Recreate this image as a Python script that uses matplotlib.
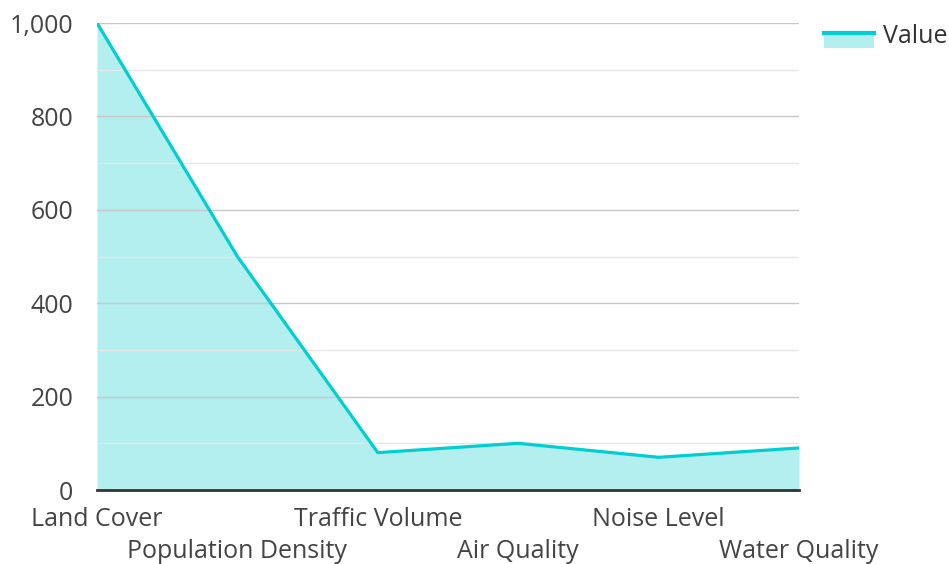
import matplotlib.pyplot as plt
import matplotlib.transforms as mtransforms
from matplotlib.patches import Rectangle
from matplotlib.lines import Line2D
from matplotlib.legend_handler import HandlerBase
import numpy as np

categories = ["Land Cover", "Population Density", "Traffic Volume",
              "Air Quality", "Noise Level", "Water Quality"]
values = [1000, 500, 80, 100, 70, 90]
series_name = "Value"

line_color = "#00CED1"
fill_color = "#B2EFEE"

plt.rcParams['font.family'] = ['Open Sans', 'DejaVu Sans']


class AreaHandler(HandlerBase):
    # filled box with the line along its top edge, like the area legend
    def create_artists(self, legend, orig, xdescent, ydescent, width, height, fontsize, trans):
        dy = -3.6  # box sits a bit lower than the text
        r = Rectangle((-xdescent, -ydescent + dy), width, height, facecolor=fill_color,
                      edgecolor='none', transform=trans)
        l = Line2D([-xdescent, -xdescent + width], [height - ydescent + dy - 1.5] * 2,
                   color=line_color, linewidth=3, transform=trans)
        return [r, l]


fig = plt.figure(figsize=(9.49, 5.64), dpi=100)
ax = fig.add_axes([97 / 949, 1 - 490 / 564, (799 - 97) / 949, (490 - 23) / 564])

x = np.arange(len(categories))
ax.fill_between(x, 0, values, color=fill_color, linewidth=0, zorder=2)
ax.plot(x, values, color=line_color, linewidth=2.3, zorder=3, solid_joinstyle='miter')

ax.set_xlim(0, len(categories) - 1)
ax.set_ylim(0, 1000)
ax.set_yticks(np.arange(0, 1001, 200))
ax.set_yticks(np.arange(100, 1000, 200), minor=True)
ax.set_yticklabels([f"{v:,}" for v in range(0, 1001, 200)])
ax.grid(axis='y', which='major', color='#c8c8c8', linewidth=1, zorder=1)
ax.grid(axis='y', which='minor', color='#e6e6e6', linewidth=1, zorder=1)
ax.set_axisbelow(False)

# category labels on two staggered rows
ax.set_xticks(x)
ax.set_xticklabels([])
base = ax.get_xaxis_transform()
for i, c in enumerate(categories):
    off = -12 if i % 2 == 0 else -35
    tr = base + mtransforms.ScaledTranslation(0, off / 72, fig.dpi_scale_trans)
    ax.text(x[i], 0, c, transform=tr, ha='center', va='top',
            fontsize=18, color='#444444', clip_on=False)

for s in ["top", "right", "left"]:
    ax.spines[s].set_visible(False)
ax.spines["bottom"].set_color("#333333")
ax.spines["bottom"].set_linewidth(2)
ax.spines["bottom"].set_zorder(4)

ax.tick_params(axis='both', which='both', length=0, labelsize=18, labelcolor='#444444')
ax.tick_params(axis='y', pad=17)

leg = fig.legend([object()], [series_name], handler_map={object: AreaHandler()},
                 loc='upper left', bbox_to_anchor=(824 / 949, 1 - 24 / 564),
                 frameon=False, borderpad=0, borderaxespad=0,
                 fontsize=18, handlelength=2.0, handleheight=0.65,
                 handletextpad=0.36, labelcolor='#333333')

fig.savefig("out.png", dpi=100)
